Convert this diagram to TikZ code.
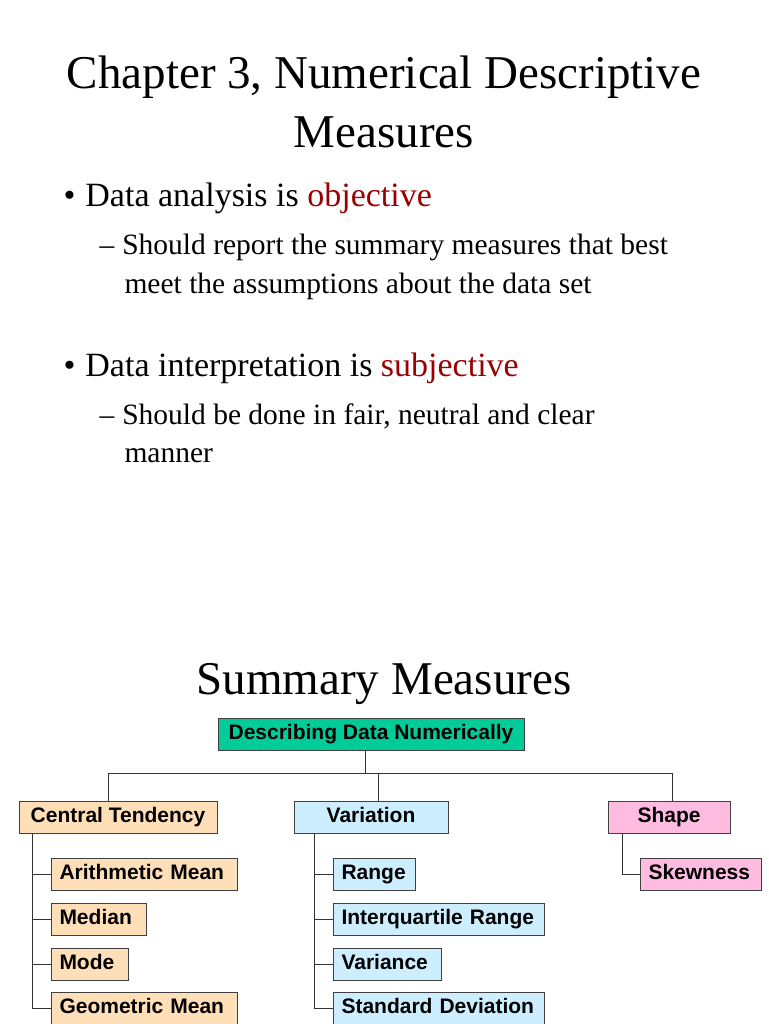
\documentclass[tikz,border=0pt]{standalone}
\usepackage{fontspec}
\setmainfont{Liberation Serif}
\setsansfont{Liberation Sans}
\begin{document}
\begin{tikzpicture}[x=1pt,y=-1pt,
  box/.style={draw=black!75,line width=1pt,font=\sffamily\bfseries\fontsize{21}{24}\selectfont,minimum height=32pt,inner xsep=8pt,inner ysep=0pt,text height=15pt,text depth=4pt},
  head/.style={box,align=center},
  kid/.style={box,anchor=west,align=left,text width=#1},
  kid/.default={},
  ln/.style={draw=black!80,line width=1pt}]
\useasboundingbox (0,0) rectangle (768,1024);
\fill[white] (0,0) rectangle (768,1024);
\definecolor{topc}{HTML}{00CC99}
\definecolor{ctc}{HTML}{FFDFB8}
\definecolor{vc}{HTML}{CCEEFF}
\definecolor{sc}{HTML}{FFBBE0}
\node (t1) at (384,77) {\fontsize{47}{52}\selectfont Chapter 3, Numerical Descriptive};
\node (t2) at (384,132) {\fontsize{47}{52}\selectfont Measures};
\node[anchor=west] (b1) at (60,198) {\fontsize{34}{38}\selectfont •\hspace{10pt}Data analysis is \textcolor{red!60!black}{objective}};
\node[anchor=west] (s1) at (96,247) {\fontsize{29.5}{33}\selectfont –\hspace{8pt}Should report the summary measures that best};
\node[anchor=west] (s1b) at (121,286) {\fontsize{29.5}{33}\selectfont meet the assumptions about the data set};
\node[anchor=west] (b2) at (60,368) {\fontsize{34}{38}\selectfont •\hspace{10pt}Data interpretation is \textcolor{red!60!black}{subjective}};
\node[anchor=west] (s2) at (96,416) {\fontsize{29.5}{33}\selectfont –\hspace{8pt}Should be done in fair, neutral and clear};
\node[anchor=west] (s2b) at (121,456) {\fontsize{29.5}{33}\selectfont manner};
\node (sm) at (384,684) {\fontsize{47}{52}\selectfont Summary Measures};

\node[head,fill=topc,minimum width=306pt] (top) at (371,734) {Describing Data Numerically};
\node[head,fill=ctc,minimum width=198pt] (ct) at (118,817) {Central Tendency};
\node[head,fill=vc,minimum width=154pt] (var) at (371,817) {Variation};
\node[head,fill=sc,minimum width=122pt] (sh) at (669,817) {Shape};

\coordinate (bus) at (365,773);
\coordinate (busL) at (108,773);
\coordinate (busR) at (672,773);
\draw[ln] (top.south -| bus) -- (bus);
\draw[ln] (busL) -- (busR);
\draw[ln] (busL) -- (ct.north -| busL);
\draw[ln] (378,773) -- (var.north -| 378,0);
\draw[ln] (busR) -- (sh.north -| busR);

\node[kid=170pt,fill=ctc] (am) at (51,874) {Arithmetic Mean};
\node[kid=79pt,fill=ctc] (md) at (51,919) {Median};
\node[kid=61pt,fill=ctc] (mo) at (51,964) {Mode};
\node[kid=170pt,fill=ctc] (gm) at (51,1008) {Geometric Mean};
\node[kid=66pt,fill=vc] (rg) at (333,874) {Range};
\node[kid=195pt,fill=vc] (iq) at (333,919) {Interquartile Range};
\node[kid=92pt,fill=vc] (vr) at (333,964) {Variance};
\node[kid=195pt,fill=vc] (sd) at (333,1008) {Standard Deviation};
\node[kid=105pt,fill=sc] (sk) at (640,874) {Skewness};

\draw[ln] (ct.south -| 32,0) -- (32,1008) -- (gm.west);
\foreach \n in {am,md,mo} \draw[ln] (\n.west -| 32,0) -- (\n.west);
\draw[ln] (var.south -| 314,0) -- (314,1008) -- (sd.west);
\foreach \n in {rg,iq,vr} \draw[ln] (\n.west -| 314,0) -- (\n.west);
\draw[ln] (sh.south -| 622,0) -- (622,874) -- (sk.west);
\end{tikzpicture}
\end{document}
